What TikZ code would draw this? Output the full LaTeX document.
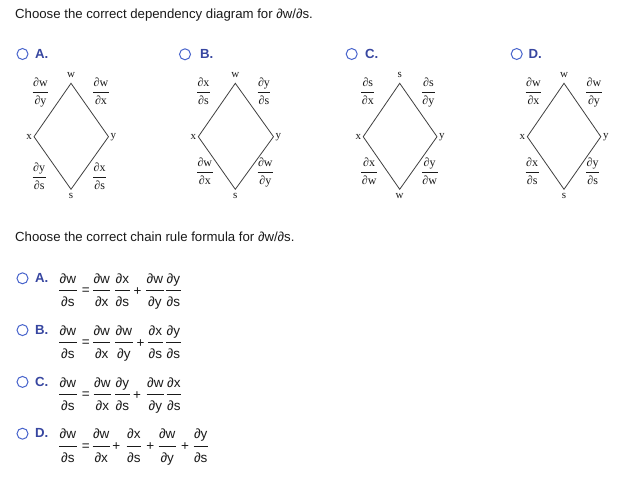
\documentclass[tikz,border=0pt]{standalone}
\usepackage{fontspec}
\setmainfont{Liberation Serif}
\newfontfamily\arial{Liberation Sans}
\usetikzlibrary{positioning}

\definecolor{radioblue}{RGB}{72,100,204}
\definecolor{optblue}{RGB}{55,70,160}
\definecolor{txt}{RGB}{26,26,26}
\definecolor{edgegray}{RGB}{64,64,64}

\setlength{\arrayrulewidth}{0.8pt}
% partial derivative as a small table with a rule
\newcommand{\pd}[2]{\begin{tabular}[t]{@{\hspace{0.5pt}}c@{\hspace{0.5pt}}}#1\\\hline #2\end{tabular}}

\tikzset{
  heading/.style={anchor=base west, inner sep=0pt, text=txt, font=\arial\fontsize{13.2}{16}\selectfont},
  radio/.style={draw=radioblue, line width=1pt, circle, minimum size=11pt, inner sep=0pt},
  optlab/.style={anchor=base west, inner sep=0pt, text=optblue, font=\arial\bfseries\fontsize{13.2}{16}\selectfont},
  vlab/.style={inner sep=1pt, text=txt, font=\fontsize{11}{12}\selectfont},
  dfrac/.style={anchor=base west, inner sep=0pt, text=txt, font=\fontsize{12}{17.3}\selectfont},
  ffrac/.style={anchor=base west, inner sep=0pt, text=txt, font=\arial\fontsize{13.5}{22.6}\selectfont},
  op/.style={inner sep=0pt, text=txt, font=\arial\fontsize{13.5}{16}\selectfont},
  edge/.style={draw=edgegray, line width=0.8pt},
}

\begin{document}
\begin{tikzpicture}[x=1pt, y=-1pt]
\fill[white] (0,0) rectangle (644,487);
\useasboundingbox (0,0) rectangle (644,487);

% Headings
\node[heading] (head1) at (15,18.7) {Choose the correct dependency diagram for ∂w/∂s.};
\node[heading] (head2) at (15,241.7) {Choose the correct chain rule formula for ∂w/∂s.};

% Options of the diagrams
\node[radio] (rA) at (22.5,54) {};
\node[optlab] (oA) at (35,58.5) {A.};
\node[radio] (rB) at (185,54.3) {};
\node[optlab] (oB) at (200,58.5) {B.};
\node[radio] (rC) at (351.7,54) {};
\node[optlab] (oC) at (365,58.5) {C.};
\node[radio] (rD) at (516.7,54) {};
\node[optlab] (oD) at (528.3,58.5) {D.};

% Diagram A
\coordinate[label={[vlab, label distance=4pt]above:w}] (Aw) at (71,83.3);
\coordinate[label={[vlab, label distance=1pt]left:x}] (Ax) at (34,136.7);
\coordinate[label={[vlab, label distance=1pt]right:y}] (Ay) at (108.5,136.7);
\coordinate[label={[vlab, label distance=3pt]below:s}] (As) at (71,189.3);
\draw[edge] (Aw) -- (Ax) -- (As) -- (Ay) -- cycle;
\node[dfrac] (Awy) at (32.5,86.8) {\pd{∂w}{∂y}};
\node[dfrac] (Awx) at (93,86.8) {\pd{∂w}{∂x}};
\node[dfrac] (Ays) at (32.5,171.5) {\pd{∂y}{∂s}};
\node[dfrac] (Axs) at (93,171.5) {\pd{∂x}{∂s}};

% Diagram B
\coordinate[label={[vlab, label distance=4pt]above:w}] (Bw) at (235.3,83.3);
\coordinate[label={[vlab, label distance=1pt]left:x}] (Bx) at (198.3,136.7);
\coordinate[label={[vlab, label distance=1pt]right:y}] (By) at (273.5,136.7);
\coordinate[label={[vlab, label distance=3pt]below:s}] (Bs) at (235.3,189.3);
\draw[edge] (Bw) -- (Bx) -- (Bs) -- (By) -- cycle;
\node[dfrac] (Bxs) at (196.8,86.8) {\pd{∂x}{∂s}};
\node[dfrac] (Bys) at (257.3,86.8) {\pd{∂y}{∂s}};
\node[dfrac] (Bwx) at (196.8,166.8) {\pd{∂w}{∂x}};
\node[dfrac] (Bwy) at (257.3,166.8) {\pd{∂w}{∂y}};

% Diagram C
\coordinate[label={[vlab, label distance=4pt]above:s}] (Cs) at (399.7,83.3);
\coordinate[label={[vlab, label distance=1pt]left:x}] (Cx) at (363.2,136.7);
\coordinate[label={[vlab, label distance=1pt]right:y}] (Cy) at (437,136.7);
\coordinate[label={[vlab, label distance=3pt]below:w}] (Cw) at (399.7,189.3);
\draw[edge] (Cs) -- (Cx) -- (Cw) -- (Cy) -- cycle;
\node[dfrac] (Csx) at (361.2,86.8) {\pd{∂s}{∂x}};
\node[dfrac] (Csy) at (421.7,86.8) {\pd{∂s}{∂y}};
\node[dfrac] (Cxw) at (361.2,166.8) {\pd{∂x}{∂w}};
\node[dfrac] (Cyw) at (421.7,166.8) {\pd{∂y}{∂w}};

% Diagram D
\coordinate[label={[vlab, label distance=4pt]above:w}] (Dw) at (564,83.3);
\coordinate[label={[vlab, label distance=1pt]left:x}] (Dx) at (527.3,136.7);
\coordinate[label={[vlab, label distance=1pt]right:y}] (Dy) at (600.8,136.7);
\coordinate[label={[vlab, label distance=3pt]below:s}] (Ds) at (564,189.3);
\draw[edge] (Dw) -- (Dx) -- (Ds) -- (Dy) -- cycle;
\node[dfrac] (Dwx) at (525.5,86.8) {\pd{∂w}{∂x}};
\node[dfrac] (Dwy) at (586,86.8) {\pd{∂w}{∂y}};
\node[dfrac] (Dxs) at (525.5,166.8) {\pd{∂x}{∂s}};
\node[dfrac] (Dys) at (586,166.8) {\pd{∂y}{∂s}};

% Formula A
\node[radio] (qA) at (22.5,278.3) {};
\node[optlab] (pA) at (35,282.5) {A.};
\node[ffrac] (fA1) at (59,283.5) {\pd{∂w}{∂s}};
\node[op] (eA) at (85.8,291.5) {=};
\node[ffrac] (fA2) at (92.8,283.5) {\pd{∂w}{∂x}};
\node[ffrac] (fA3) at (115,283.5) {\pd{∂x}{∂s}};
\node[op] (sA) at (137.5,291.5) {+};
\node[ffrac] (fA4) at (146,283.5) {\pd{∂w}{∂y}};
\node[ffrac] (fA5) at (166,283.5) {\pd{∂y}{∂s}};

% Formula B
\node[radio] (qB) at (22.5,330.1) {};
\node[optlab] (pB) at (35,334.3) {B.};
\node[ffrac] (fB1) at (59,335.3) {\pd{∂w}{∂s}};
\node[op] (eB) at (85.8,343.3) {=};
\node[ffrac] (fB2) at (92.8,335.3) {\pd{∂w}{∂x}};
\node[ffrac] (fB3) at (115,335.3) {\pd{∂w}{∂y}};
\node[op] (sB) at (140.5,343.3) {+};
\node[ffrac] (fB4) at (148,335.3) {\pd{∂x}{∂s}};
\node[ffrac] (fB5) at (166,335.3) {\pd{∂y}{∂s}};

% Formula C
\node[radio] (qC) at (22.5,381.9) {};
\node[optlab] (pC) at (35,386.1) {C.};
\node[ffrac] (fC1) at (59,387.1) {\pd{∂w}{∂s}};
\node[op] (eC) at (85.8,395.1) {=};
\node[ffrac] (fC2) at (93.5,387.1) {\pd{∂w}{∂x}};
\node[ffrac] (fC3) at (115,387.1) {\pd{∂y}{∂s}};
\node[op] (sC) at (137,395.1) {+};
\node[ffrac] (fC4) at (146.5,387.1) {\pd{∂w}{∂y}};
\node[ffrac] (fC5) at (166.5,387.1) {\pd{∂x}{∂s}};

% Formula D
\node[radio] (qD) at (22.5,433.7) {};
\node[optlab] (pD) at (35,437.9) {D.};
\node[ffrac] (fD1) at (59,438.9) {\pd{∂w}{∂s}};
\node[op] (eD) at (85.8,446.9) {=};
\node[ffrac] (fD2) at (92.3,438.9) {\pd{∂w}{∂x}};
\node[op] (sD1) at (116.3,446.9) {+};
\node[ffrac] (fD3) at (126.5,438.9) {\pd{∂x}{∂s}};
\node[op] (sD2) at (150.3,446.9) {+};
\node[ffrac] (fD4) at (158.3,438.9) {\pd{∂w}{∂y}};
\node[op] (sD3) at (185,446.9) {+};
\node[ffrac] (fD5) at (193.3,438.9) {\pd{∂y}{∂s}};
\end{tikzpicture}
\end{document}
